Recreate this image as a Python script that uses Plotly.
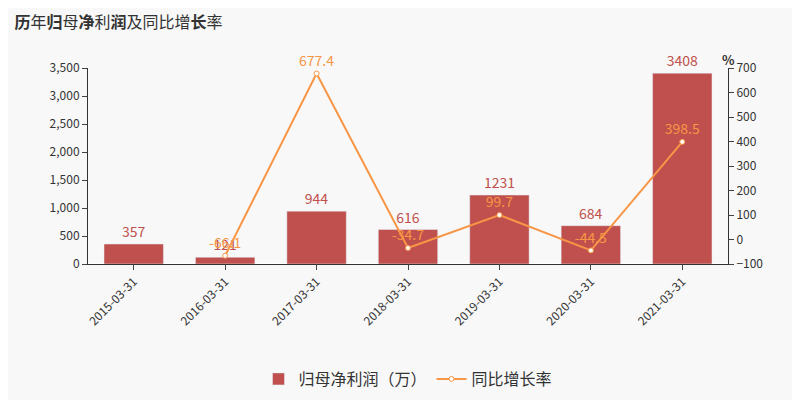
import plotly.graph_objects as go

dates = ["2015-03-31", "2016-03-31", "2017-03-31", "2018-03-31", "2019-03-31", "2020-03-31", "2021-03-31"]
profit = [357, 121, 944, 616, 1231, 684, 3408]
growth = [None, -66.1, 677.4, -34.7, 99.7, -44.5, 398.5]

bar_color = "#c0504d"
line_color = "#f79646"

fig = go.Figure()
fig.add_trace(go.Bar(
    x=dates, y=profit, name="归母净利润（万）", marker_color=bar_color,
    text=[str(v) for v in profit], textposition="outside",
    textfont=dict(color=bar_color, size=14), cliponaxis=False,
))
fig.add_trace(go.Scatter(
    x=dates, y=growth, name="同比增长率", yaxis="y2", mode="lines+markers+text",
    line=dict(color=line_color, width=2),
    marker=dict(size=5, color="white", line=dict(color=line_color, width=1)),
    text=["" if g is None else f"{g:.1f}" for g in growth], textposition="top center",
    textfont=dict(color=line_color, size=14), cliponaxis=False,
))

fig.update_layout(
    width=800, height=400, plot_bgcolor="#f8f8f8", paper_bgcolor="#f8f8f8",
    font=dict(family="Noto Sans CJK SC", color="#333"),
    margin=dict(l=80, r=80, t=60, b=115),
    title=dict(text="<b>历</b>年<b>归</b>母<b>净</b>利<b>润</b>及同比增<b>长</b>率",
               x=0.008, xanchor="left", y=0.965, yanchor="middle",
               font=dict(size=16, color="#333")),
    bargap=0.35,
    xaxis=dict(type="category", tickangle=-45, showline=True, linecolor="#333", ticks="outside",
               tickfont=dict(size=12, color="#333")),
    yaxis=dict(range=[0, 3500], dtick=500, tickformat=",", showgrid=False,
               showline=True, linecolor="#333", ticks="outside", tickfont=dict(size=12)),
    yaxis2=dict(range=[-100, 700], dtick=100, overlaying="y", side="right", showgrid=False,
                showline=True, linecolor="#333", ticks="outside", tickfont=dict(size=12),
                zeroline=False),
    legend=dict(orientation="h", x=0.5, xanchor="center", y=-0.5, font=dict(size=16)),
    annotations=[dict(text="<b>%</b>", x=1.0, xref="paper", y=1.1, yref="paper",
                      showarrow=False, font=dict(size=13), xanchor="center")],
)

fig.write_html("out.html")
